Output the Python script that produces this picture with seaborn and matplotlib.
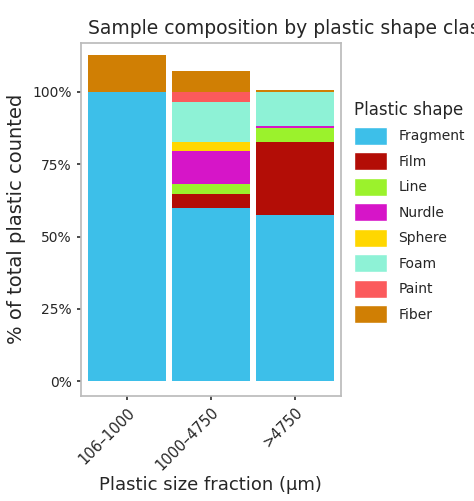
import numpy as np
import pandas as pd
import matplotlib.pyplot as plt
import seaborn as sns
from matplotlib.patches import Patch

sizes = ["106\u20131000", "1000\u20134750", ">4750"]
shapes = ["Fragment", "Film", "Line", "Nurdle", "Sphere", "Foam", "Paint", "Fiber"]
colors = ["#3dbfe9", "#b30d06", "#9bf22c", "#d615c8", "#ffd700", "#8ef2d6", "#fb5a5c", "#d07f04"]

fragment = [100.0, 59.8, 57.3]
film = [0.0, 4.9, 25.2]
line = [0.0, 3.5, 4.9]
nurdle = [0.0, 11.5, 0.7]
sphere = [0.0, 2.8, 0.0]
foam = [0.0, 14.0, 11.9]
paint = [0.0, 3.5, 0.0]
fiber = [12.6, 7.3, 0.7]

layers = [fragment, film, line, nurdle, sphere, foam, paint, fiber]

sns.set_theme(style="white")
fig, ax = plt.subplots(figsize=(4.74, 5.01), dpi=100)

bottom = np.zeros(len(sizes))
for name, vals, col in zip(shapes, layers, colors):
    df = pd.DataFrame({"size": sizes, "pct": vals})
    sns.barplot(data=df, x="size", y="pct", color=col, bottom=bottom,
                width=0.92, saturation=1, ax=ax, linewidth=0)
    bottom = bottom + np.array(vals)

ax.set_ylim(-5, 117)
ax.set_xlim(-0.55, 2.55)
ax.set_yticks([0, 25, 50, 75, 100])
ax.set_yticklabels(["0%", "25%", "50%", "75%", "100%"], fontsize=10)
ax.set_xticks(range(3))
ax.set_xticklabels(sizes, rotation=45, ha="right", rotation_mode="anchor", fontsize=10.5)
ax.set_xlabel("Plastic size fraction (\u00b5m)", fontsize=13, labelpad=2)
ax.set_ylabel("% of total plastic counted", fontsize=14)
ax.set_title("Sample composition by plastic shape class", fontsize=13.5, x=0.8)
for s in ax.spines.values():
    s.set_color("#bbbbbb")
ax.tick_params(axis="both", length=3, color="#333333", left=True, bottom=True)

handles = [Patch(facecolor=c, edgecolor="white", label=n) for n, c in zip(shapes, colors)]
ax.legend(handles=handles, title="Plastic shape", loc="center left", bbox_to_anchor=(1.0, 0.52),
          frameon=False, fontsize=10, title_fontsize=12, handlelength=2.4, handleheight=1.6,
          labelspacing=0.55, alignment="left")

plt.subplots_adjust(left=0.17, right=0.72, top=0.915, bottom=0.21)
plt.savefig("out.png", dpi=100)
